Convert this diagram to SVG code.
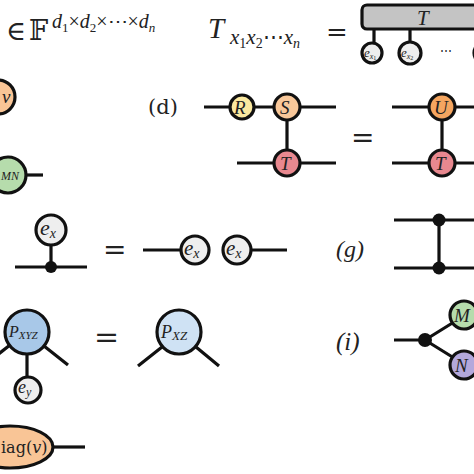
<svg xmlns="http://www.w3.org/2000/svg" width="474" height="474" viewBox="0 0 474 474">
<style>
.w{stroke:#111;stroke-width:3.2;fill:none;stroke-linecap:butt}
.n{stroke:#111;stroke-width:3.2}
.m{font-family:"DejaVu Serif","Liberation Serif",serif;fill:#222}
.i{font-family:"Liberation Serif","DejaVu Serif",serif;font-style:italic;fill:#222}
.e{fill:#eeeeee}
.dot{fill:#111}
</style>
<rect width="474" height="474" fill="#fff"/>
<g id="field">
<text class="m" x="6" y="40" font-size="27">∈</text>
<text class="m" x="29" y="40" font-size="27">𝔽</text>
<text class="i" x="52" y="28" font-size="20">d<tspan font-size="13" dy="4" font-style="normal">1</tspan><tspan dy="-4" font-style="normal">×</tspan>d<tspan font-size="13" dy="4" font-style="normal">2</tspan><tspan dy="-4" font-style="normal">×⋯×</tspan>d<tspan font-size="13" dy="4">n</tspan></text>
</g>
<g id="Tdef">
<text class="i" x="208" y="38" font-size="29">T</text>
<text class="i" x="230" y="44" font-size="21">x<tspan font-size="14" dy="4" font-style="normal">1</tspan><tspan dy="-4">x</tspan><tspan font-size="14" dy="4" font-style="normal">2</tspan><tspan dy="-4" font-style="normal">⋯</tspan>x<tspan font-size="14" dy="4">n</tspan></text>
<text class="m" x="326" y="41" font-size="26">=</text>
</g>
<g id="connectors">
<path class="w" d="M374 29V43M410 29V42"/>
<path class="w" d="M26 175H43"/>
<path class="w" d="M204 107H336M237 163H336M287 107V163"/>
<path class="w" d="M392 107H474M392 163H474M442 107V163"/>
<path class="w" d="M15 267H87M51 245V267"/>
<path class="w" d="M143 250H181M251 250H287"/>
<path class="w" d="M394 220H474M394 268H474M439 220V268"/>
<path class="w" d="M10 345L-4 356M44 346L68 365M27 354V377"/>
<path class="w" d="M162 347L138 366M196 347L219 366"/>
<path class="w" d="M394 340H425L454 322M425 340L454 358"/>
<path class="w" d="M53 447H85"/>
</g>
<g id="Tbox">
<rect x="362" y="5" width="130" height="24" rx="5" fill="#c4c4c4" class="n"/>
<text class="i" x="417" y="25" font-size="21">T</text>
</g>
<g id="ex1"><circle cx="372" cy="53" r="10" class="n e"/><text class="i" x="364" y="57" font-size="13">e<tspan font-size="8" dy="2">x</tspan><tspan font-size="6" dy="1" font-style="normal">1</tspan></text></g>
<g id="ex2"><circle cx="410" cy="53" r="11" class="n e"/><text class="i" x="401" y="57" font-size="13">e<tspan font-size="8" dy="2">x</tspan><tspan font-size="6" dy="1" font-style="normal">2</tspan></text></g>
<text class="m" x="440" y="55" font-size="12">⋯</text>
<g id="exn"><circle cx="485" cy="53" r="11" class="n e"/></g>
<g id="v"><circle cx="-2" cy="97" r="17" class="n" fill="#f9c596"/><text class="i" x="2" y="103" font-size="19">v</text></g>
<g id="MN"><circle cx="8" cy="175" r="18" class="n" fill="#b6dcac"/><text class="i" x="1" y="180" font-size="12" fill="#333">MN</text></g>
<text class="m" x="148" y="114" font-size="21">(d)</text>
<g id="R"><circle cx="242" cy="107" r="12" class="n" fill="#fbe9a0"/><text class="i" x="234" y="114" font-size="19">R</text></g>
<g id="S"><circle cx="287" cy="107" r="13" class="n" fill="#f9c89a"/><text class="i" x="280" y="114" font-size="19">S</text></g>
<g id="T1"><circle cx="287" cy="163" r="13" class="n" fill="#e8888f"/><text class="i" x="280" y="170" font-size="19">T</text></g>
<text class="m" x="351" y="147" font-size="28">=</text>
<g id="U"><circle cx="442" cy="107" r="13" class="n" fill="#f5a660"/><text class="i" x="434" y="114" font-size="19">U</text></g>
<g id="T2"><circle cx="442" cy="163" r="13" class="n" fill="#e8888f"/><text class="i" x="435" y="170" font-size="19">T</text></g>
<g id="exa"><circle cx="51" cy="230" r="15" class="n e"/><text class="i" x="40" y="235" font-size="22">e<tspan font-size="14" dy="3">x</tspan></text></g>
<circle cx="51" cy="267" r="6" class="dot"/>
<text class="m" x="103" y="259" font-size="28">=</text>
<g id="exb"><circle cx="195" cy="250" r="14" class="n e"/><text class="i" x="184" y="255" font-size="21">e<tspan font-size="14" dy="3">x</tspan></text></g>
<g id="exc"><circle cx="237" cy="250" r="14" class="n e"/><text class="i" x="226" y="255" font-size="21">e<tspan font-size="14" dy="3">x</tspan></text></g>
<text class="i" x="336" y="257" font-size="24">(g)</text>
<circle cx="439" cy="220" r="6.5" class="dot"/>
<circle cx="439" cy="268" r="6.5" class="dot"/>
<g id="Pxyz"><circle cx="27" cy="332" r="22" class="n" fill="#a8c8e8"/><text class="i" x="9" y="337" font-size="16" fill="#2a3a6a">P<tspan font-size="11" dy="2">XYZ</tspan></text></g>
<g id="ey"><circle cx="28" cy="390" r="13" class="n e"/><text class="i" x="18" y="393" font-size="18">e<tspan font-size="12" dy="3">y</tspan></text></g>
<text class="m" x="94" y="347" font-size="30">=</text>
<g id="Pxz"><circle cx="179" cy="332" r="22" class="n" fill="#cfe2f4"/><text class="i" x="161" y="338" font-size="18" fill="#2a3a6a">P<tspan font-size="13" dy="2">XZ</tspan></text></g>
<text class="i" x="336" y="350" font-size="25">(i)</text>
<circle cx="425" cy="340" r="7" class="dot"/>
<g id="M"><circle cx="464" cy="315" r="14" class="n" fill="#b6dcac"/><text class="i" x="454" y="322" font-size="19">M</text></g>
<g id="N"><circle cx="464" cy="365" r="14" class="n" fill="#b3a8dc"/><text class="i" x="455" y="372" font-size="19">N</text></g>
<g id="diag"><ellipse cx="10" cy="447" rx="43" ry="21" class="n" fill="#f9c596"/><text class="m" x="1" y="453" font-size="16">iag(<tspan font-style="italic">v</tspan>)</text></g>
</svg>
